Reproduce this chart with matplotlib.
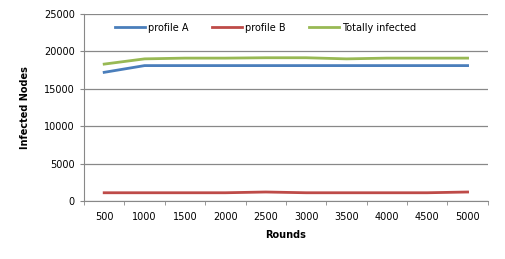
import matplotlib.pyplot as plt
import numpy as np

rounds = ['500', '1000', '1500', '2000', '2500', '3000', '3500', '4000', '4500', '5000']
profile_a = [17200, 18100, 18100, 18100, 18100, 18100, 18100, 18100, 18100, 18100]
profile_b = [1100, 1100, 1100, 1100, 1200, 1100, 1100, 1100, 1100, 1200]
total = [18300, 19000, 19100, 19100, 19150, 19150, 19000, 19100, 19100, 19100]

fig = plt.figure(figsize=(5.06, 2.59), dpi=100)
ax = fig.add_axes([0.166, 0.224, 0.798, 0.722])
x = np.arange(len(rounds))
ax.plot(x, profile_a, color='#4a7ebb', lw=2, label='profile A')
ax.plot(x, profile_b, color='#be4b48', lw=2, label='profile B')
ax.plot(x, total, color='#98b954', lw=2, label='Totally infected')

ax.set_xlim(-0.5, 9.5)
ax.set_ylim(0, 25000)
ax.set_yticks(range(0, 25001, 5000))
ax.yaxis.grid(True, color='#888888', lw=0.9)
ax.set_axisbelow(True)
ax.set_xticks(x)
ax.set_xticklabels(rounds, fontsize=7)
ax.set_xticks(np.arange(-0.5, 10, 1), minor=True)
ax.tick_params(axis='x', which='major', length=0, pad=8)
ax.tick_params(axis='x', which='minor', length=3, color='#888888')
ax.tick_params(axis='y', labelsize=7, length=3, color='#888888')
for s in ['top', 'right']:
    ax.spines[s].set_visible(False)
ax.spines['left'].set_color('#888888')
ax.spines['bottom'].set_color('#888888')
ax.set_xlabel('Rounds', fontsize=7, fontweight='bold', labelpad=6)
ax.set_ylabel('Infected Nodes', fontsize=7, fontweight='bold', labelpad=10)
ax.legend(loc='upper center', ncol=3, frameon=False, fontsize=7, handlelength=3.1,
          bbox_to_anchor=(0.45, 1.0), columnspacing=2.4, handletextpad=0.3)
fig.savefig('out.png', dpi=100)
